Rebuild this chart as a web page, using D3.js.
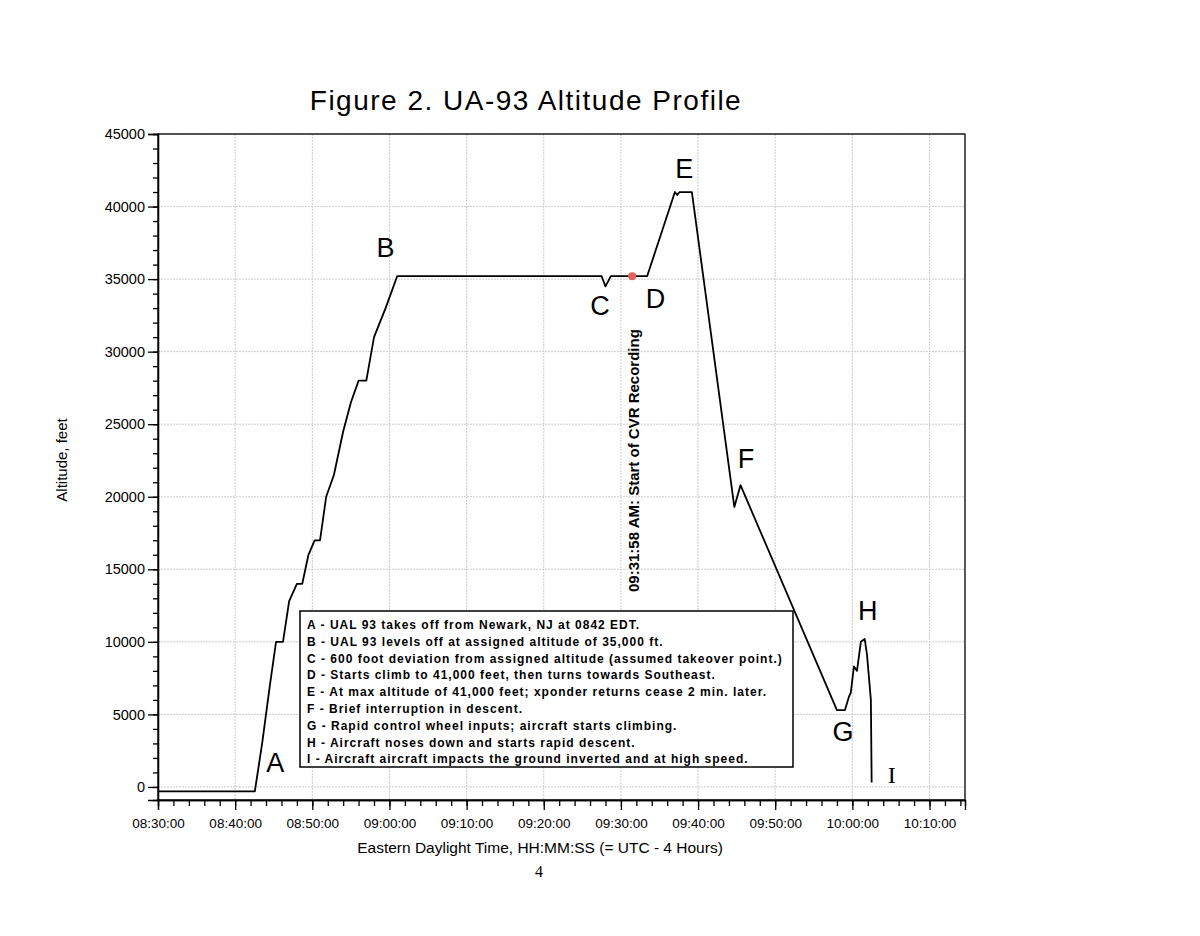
<!DOCTYPE html>
<html><head><meta charset="utf-8">
<script src="https://cdn.jsdelivr.net/npm/d3@7"></script>
<style>body{margin:0;background:#fff}</style></head>
<body><svg id="c" width="1200" height="936"></svg>
<script>
// time in minutes after 08:30:00, altitude in feet
const times = [0,12.55,13.5,14.5,15.3,16.2,17.0,18.0,18.7,19.5,20.3,21.0,21.8,22.8,24.0,25.0,26.0,27.0,28.0,29.5,31.0,57.5,58.0,58.7,63.4,67.0,67.3,67.6,69.2,74.7,75.5,88.0,89.04,89.55,89.8,90.2,90.6,91.1,91.6,91.9,92.4,92.5];
const alts  = [-300,-300,3000,7000,10000,10000,12800,14000,14000,16000,17000,17000,20000,21500,24500,26500,28000,28000,31000,33000,35200,35200,34500,35200,35200,41000,40800,41000,41000,19300,20800,5300,5300,6200,6500,8300,8000,10000,10200,9100,6000,300];
const labels = [{t:"A",x:15.2,y:1000},{t:"B",x:29.5,y:36500},{t:"C",x:57.3,y:32500},{t:"D",x:64.5,y:33000},{t:"E",x:68.2,y:42000},{t:"F",x:76.2,y:22000},{t:"G",x:88.8,y:3200},{t:"H",x:92.0,y:11500}];
const cvrTime = 61.97, cvrAlt = 35200;
const yTicks = [0,5000,10000,15000,20000,25000,30000,35000,40000,45000];
const xTickLabels = ["08:30:00","08:40:00","08:50:00","09:00:00","09:10:00","09:20:00","09:30:00","09:40:00","09:50:00","10:00:00","10:10:00"];
const legendLines = [
"A - UAL 93 takes off from Newark, NJ at 0842 EDT.",
"B - UAL 93 levels off at assigned altitude of 35,000 ft.",
"C - 600 foot deviation from assigned altitude (assumed takeover point.)",
"D - Starts climb to 41,000 feet, then turns towards Southeast.",
"E - At max altitude of 41,000 feet; xponder returns cease 2 min. later.",
"F - Brief interruption in descent.",
"G - Rapid control wheel inputs; aircraft starts climbing.",
"H - Aircraft noses down and starts rapid descent.",
"I - Aircraft aircraft impacts the ground inverted and at high speed."];

const svg = d3.select("#c");
const x = d3.scaleLinear().domain([0,104.6]).range([158,965]);
const y = d3.scaleLinear().domain([-900,45000]).range([800,134]);
const F = "Arial, 'Liberation Sans', sans-serif";

const g = svg.append("g");
g.selectAll(".gx").data(d3.range(10,110,10)).join("line")
 .attr("x1",d=>x(d)).attr("x2",d=>x(d)).attr("y1",y(45000)).attr("y2",800)
 .attr("stroke","#ccc").attr("stroke-dasharray","2,1");
g.selectAll(".gy").data(yTicks).join("line")
 .attr("x1",158).attr("x2",965).attr("y1",d=>y(d)).attr("y2",d=>y(d))
 .attr("stroke","#ccc").attr("stroke-dasharray","2,1");
svg.append("rect").attr("x",158).attr("y",y(45000)).attr("width",965-158).attr("height",800-y(45000))
 .attr("fill","none").attr("stroke","#000").attr("stroke-width",1.3);

const xa = svg.append("g").attr("transform","translate(0,800)")
 .call(d3.axisBottom(x).tickValues(d3.range(0,105,10)).tickSize(10).tickFormat((d,i)=>xTickLabels[i]));
xa.append("g").call(d3.axisBottom(x).tickValues(d3.range(0,105,2)).tickSize(6).tickFormat(""));
xa.selectAll("text").attr("font-family",F).attr("font-size",13.5).attr("dy","1.1em");
const ya = svg.append("g").attr("transform","translate(158,0)")
 .call(d3.axisLeft(y).tickValues(yTicks).tickSize(10).tickFormat(d=>d));
ya.append("g").call(d3.axisLeft(y).tickValues(d3.range(0,45001,1000)).tickSize(5).tickFormat(""));
ya.selectAll("text").attr("font-family",F).attr("font-size",14.5);
svg.selectAll(".domain").attr("stroke","#000").attr("stroke-width",1.3);
svg.selectAll(".tick line").attr("stroke-width",1.3);

const pts = times.map((t,i)=>[t,alts[i]]);
svg.append("path").datum(pts).attr("fill","none").attr("stroke","#000").attr("stroke-width",1.8)
 .attr("stroke-linejoin","round")
 .attr("d",d3.line().x(d=>x(d[0])).y(d=>y(d[1])));

svg.append("circle").attr("cx",x(cvrTime)-4).attr("cy",y(cvrAlt)).attr("r",4).attr("fill","#e0605a");
svg.append("text").attr("transform",`translate(${x(cvrTime)+3},592) rotate(-90)`)
 .attr("font-family",F).attr("font-weight","bold").attr("font-size",15).text("09:31:58 AM: Start of CVR Recording");

svg.selectAll(".lab").data(labels).join("text").attr("x",d=>x(d.x)).attr("y",d=>y(d.y))
 .attr("text-anchor","middle").attr("font-family",F).attr("font-size",27).text(d=>d.t);
svg.append("text").attr("x",x(95.1)).attr("y",y(300)).attr("text-anchor","middle")
 .attr("font-family","'Liberation Serif', serif").attr("font-size",24).text("I");

svg.append("rect").attr("x",300).attr("y",611).attr("width",493).attr("height",156)
 .attr("fill","#fff").attr("stroke","#000").attr("stroke-width",1.5);
svg.selectAll(".leg").data(legendLines).join("text").attr("x",307).attr("y",(d,i)=>629+i*16.8)
 .attr("font-family",F).attr("font-weight","bold").attr("font-size",12).attr("letter-spacing",1).text(d=>d);

svg.append("text").attr("x",526).attr("y",110).attr("text-anchor","middle").attr("font-family",F)
 .attr("font-size",28).attr("letter-spacing",1.5).text("Figure 2. UA-93 Altitude Profile");
svg.append("text").attr("transform","translate(67,460) rotate(-90)").attr("text-anchor","middle")
 .attr("font-family",F).attr("font-size",15).text("Altitude, feet");
svg.append("text").attr("x",540).attr("y",853).attr("text-anchor","middle").attr("font-family",F)
 .attr("font-size",15.5).text("Eastern Daylight Time, HH:MM:SS (= UTC - 4 Hours)");
svg.append("text").attr("x",539).attr("y",877).attr("text-anchor","middle").attr("font-family","'Liberation Serif', serif")
 .attr("font-size",16).text("4");
</script></body></html>
